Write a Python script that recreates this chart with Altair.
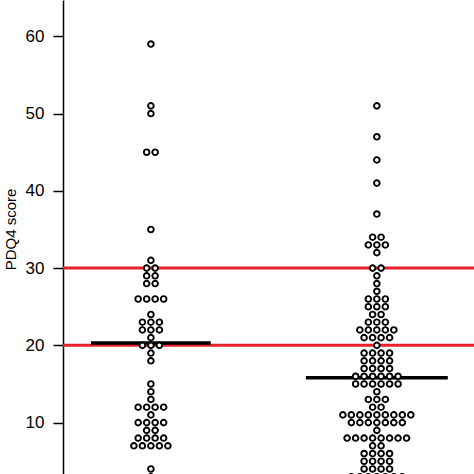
import altair as alt
import pandas as pd
from collections import Counter

# PDQ4 scores per participant, one entry per person
group1_scores = [
    59, 51, 50, 45, 45, 35,
    31, 30, 30, 29, 29, 28, 28,
    26, 26, 26, 26, 24, 23, 23, 23, 22, 22, 22, 21,
    20, 20, 20, 19, 18, 15, 14, 13,
    12, 12, 12, 12, 11, 10, 10, 10, 10, 9, 9,
    8, 8, 8, 8, 7, 7, 7, 7, 7, 4, 3,
]
group2_scores = [
    51, 47, 44, 41, 37,
    34, 34, 33, 33, 33, 32, 30, 30, 29, 28, 27,
    26, 26, 26, 25, 25, 25, 24, 24, 23, 23, 23,
    22, 22, 22, 22, 22, 21, 21, 21, 21, 20,
    19, 19, 19, 19, 18, 18, 18, 18, 17, 17, 17, 17,
    16, 16, 16, 16, 16, 16, 15, 15, 15, 15, 15, 15, 14,
    13, 13, 13, 12, 12,
    11, 11, 11, 11, 11, 11, 11, 11, 11,
    10, 10, 10, 10, 10, 10, 10, 9,
    8, 8, 8, 8, 8, 8, 8, 8, 7, 7,
    6, 6, 6, 6, 5, 5, 5, 5, 4, 4, 4, 4,
    3, 3, 3, 3, 3, 3, 3,
]
group_scores = [group1_scores, group2_scores]
group_ids = [1, 2]

# summary line drawn across each group
median_values = [20.3, 15.8]
median_halfwidth = [0.265, 0.314]

# clinical cut-off scores
cutoffs = [20, 30]

SLOT = 0.0376  # horizontal spacing between tied scores, in group units


def swarm(scores, centre):
    """Spread tied scores side by side, centred on the group position."""
    rows = []
    for value, n in Counter(scores).items():
        for i in range(n):
            rows.append({"pos": centre + (i - (n - 1) / 2) * SLOT, "score": value})
    return rows


points = pd.DataFrame(
    [r for gid, sc in zip(group_ids, group_scores) for r in swarm(sc, gid)]
)
medians = pd.DataFrame(
    {
        "lo": [g - h for g, h in zip(group_ids, median_halfwidth)],
        "hi": [g + h for g, h in zip(group_ids, median_halfwidth)],
        "median": median_values,
    }
)
cut = pd.DataFrame({"cut": cutoffs})

x_scale = alt.Scale(domain=[0.611, 2.430], nice=False, zero=False)
y_scale = alt.Scale(domain=[3.35, 64.7], nice=False, zero=False)
font = "Liberation Sans"

y_axis = alt.Axis(
    values=[10, 20, 30, 40, 50, 60],
    grid=False,
    domainColor="black",
    domainWidth=1.5,
    tickColor="black",
    tickWidth=1.5,
    tickSize=10,
    labelPadding=9,
    labelFont=font,
    labelFontSize=17,
    labelColor="black",
    title="PDQ4 score",
    titleFont=font,
    titleFontSize=15,
    titleFontWeight="normal",
    titleColor="black",
    titleX=-53,
    titleY=229,
    titleBaseline="middle",
)

cut_lines = (
    alt.Chart(cut)
    .mark_rule(color="#e8202a", strokeWidth=3, clip=True)
    .encode(
        y=alt.Y("cut:Q", scale=y_scale, axis=y_axis),
        x=alt.value(0),
        x2=alt.value(411),
    )
)

median_lines = (
    alt.Chart(medians)
    .mark_rule(color="black", strokeWidth=3.5, clip=True)
    .encode(
        x=alt.X("lo:Q", scale=x_scale, axis=None),
        x2="hi:Q",
        y=alt.Y("median:Q", scale=y_scale),
    )
)

dots = (
    alt.Chart(points)
    .mark_point(
        shape="circle",
        filled=False,
        fill="white",
        fillOpacity=1,
        stroke="black",
        strokeWidth=1.9,
        size=32,
        opacity=1,
        clip=True,
    )
    .encode(
        x=alt.X("pos:Q", scale=x_scale, axis=None),
        y=alt.Y("score:Q", scale=y_scale),
    )
)

chart = (
    alt.layer(cut_lines, median_lines, dots)
    .properties(
        width=411,
        height=474,
        autosize=alt.AutoSizeParams(type="none"),
        padding={"left": 63, "top": 0, "right": 0, "bottom": 0},
        background="white",
    )
    .configure_view(stroke=None)
)

chart.save("out.html", embed_options={"renderer": "svg", "actions": False})
